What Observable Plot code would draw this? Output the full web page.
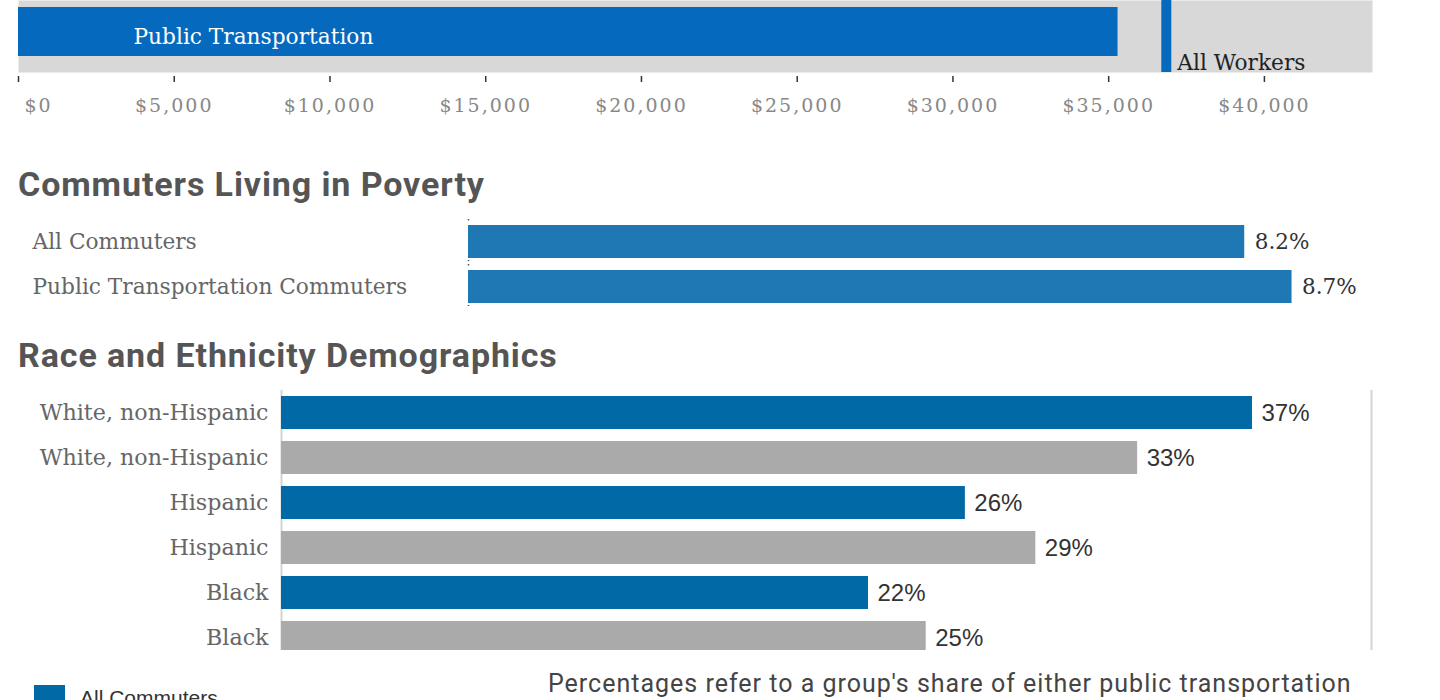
<!DOCTYPE html>
<html>
<head>
<meta charset="utf-8">
<script src="https://cdn.jsdelivr.net/npm/d3@7"></script>
<script src="https://cdn.jsdelivr.net/npm/@observablehq/plot@0.6"></script>
<style>
  html, body { margin: 0; padding: 0; background: #fff; }
  body { position: relative; width: 1440px; height: 700px; overflow: hidden; }
  .abs { position: absolute; left: 0; }
  .title { position: absolute; left: 18px; font-family: Roboto, sans-serif; font-weight: 700; font-size: 34px; line-height: 34px; letter-spacing: 0.9px; color: #555; white-space: nowrap; }
  svg { overflow: visible; }
</style>
</head>
<body>
<div id="c1" class="abs" style="top:0"></div>
<div class="title" style="top:167px">Commuters Living in Poverty</div>
<div id="c2" class="abs" style="top:200px"></div>
<div class="title" style="top:338px">Race and Ethnicity Demographics</div>
<div id="c3" class="abs" style="top:380px;height:270px;overflow:hidden;width:1440px"></div>
<div style="position:absolute;left:34px;top:685px;width:31px;height:31px;background:#0069a6"></div>
<div style="position:absolute;left:80px;top:686px;font-family:'Liberation Sans',Arial,sans-serif;font-size:21px;color:#333;white-space:nowrap">All Commuters</div>
<div id="cap" style="position:absolute;left:548px;top:669px;font-family:Roboto,sans-serif;font-size:25px;line-height:30px;letter-spacing:1px;color:#444;white-space:nowrap">Percentages refer to a group's share of either public transportation</div>
<script>
// ---- Data ----
const incomeLabels = ["Public Transportation"];
const incomeValues = [35300];
const allWorkersIncome = [36850];
const allWorkersLabel = ["All Workers"];
const incomeTicks = [0, 5000, 10000, 15000, 20000, 25000, 30000, 35000, 40000];
const incomeMax = 43470;

const povertyLabels = ["All Commuters", "Public Transportation Commuters"];
const povertyValues = [8.2, 8.7];
const povertyMax = 9.55;

const raceGroups = ["White, non-Hispanic", "Hispanic", "Black"];
const raceAllCommuters = [37.2, 26.2, 22.49];
const racePublicTransit = [32.8, 28.9, 24.7];
const raceSeries = ["All Commuters", "Public Transportation Commuters"];
const raceMax = 41.76;

const serif = "'DejaVu Serif', serif";
const sans = "'Liberation Sans', Arial, sans-serif";

// ---- Chart 1: income ----
const incomeRows = incomeLabels.map((l, i) => ({label: l, value: incomeValues[i]}));
const fmtMoney = d => "$" + d3.format(",")(d);
const c1 = Plot.plot({
  width: 1440, height: 125,
  marginLeft: 18, marginRight: 68, marginTop: 0, marginBottom: 53,
  x: {domain: [0, incomeMax], axis: null},
  y: {domain: incomeLabels, padding: 0, axis: null},
  style: {fontFamily: serif, background: "transparent"},
  marks: [
    Plot.frame({fill: "#d8d8d8", stroke: null}),
    Plot.barX(incomeRows, {x: "value", y: "label", fill: "#0569bd", insetTop: 7, insetBottom: 16}),
    Plot.text(incomeRows, {x: 0, y: "label", text: "label", textAnchor: "start", dx: 115, dy: 1, fill: "#fff", fontSize: 21.7}),
    Plot.ruleX(allWorkersIncome, {x: d => d, stroke: "#0569bd", strokeWidth: 10}),
    Plot.text(allWorkersIncome, {x: d => d, text: (d, i) => allWorkersLabel[i], frameAnchor: "bottom", lineAnchor: "bottom", textAnchor: "start", dx: 11, dy: -3, fill: "#222", fontSize: 21.7}),
    Plot.axisX(incomeTicks, {tickSize: 6, tickFormat: () => "", stroke: "#333", strokeWidth: 1.5, dy: 4, label: null}),
    Plot.axisX(incomeTicks.slice(1), {tickSize: 0, tickPadding: 26, tickFormat: fmtMoney, fontSize: 19, color: "#888", label: null}),
    Plot.axisX(incomeTicks.slice(0, 1), {tickSize: 0, tickPadding: 26, tickFormat: fmtMoney, fontSize: 19, color: "#888", textAnchor: "start", dx: 6, label: null})
  ]
});
d3.select(c1).selectAll("g[aria-label='x-axis tick label'] text").style("letter-spacing", "2px");
document.getElementById("c1").append(c1);

// ---- Chart 2: poverty ----
const povertyRows = povertyLabels.map((l, i) => ({label: l, value: povertyValues[i]}));
const c2 = Plot.plot({
  width: 1440, height: 110,
  marginLeft: 468, marginRight: 68, marginTop: 19, marginBottom: 1,
  x: {domain: [0, povertyMax], axis: null},
  y: {domain: povertyLabels, paddingInner: 12 / 45, paddingOuter: 6 / 45, axis: null},
  style: {fontFamily: serif, background: "transparent"},
  marks: [
    Plot.barX(povertyRows, {x: "value", y: "label", fill: "#1f77b4"}),
    Plot.tickX(povertyRows, {x: 0, y: "label", stroke: "#555", strokeWidth: 1.5, insetTop: -6, insetBottom: -3, strokeDasharray: "1.5,39.5"}),
    Plot.text(povertyRows, {x: "value", y: "label", text: d => d.value.toFixed(1) + "%", textAnchor: "start", dx: 10, fill: "#333", fontSize: 21.5}),
    Plot.axisY({tickSize: 0, tickPadding: 436, textAnchor: "start", fontSize: 21.7, color: "#666", label: null})
  ]
});
document.getElementById("c2").append(c2);

// ---- Chart 3: race ----
const raceRows = [];
raceGroups.forEach((g, i) => {
  raceRows.push({key: g + "|0", group: g, series: raceSeries[0], value: raceAllCommuters[i]});
  raceRows.push({key: g + "|1", group: g, series: raceSeries[1], value: racePublicTransit[i]});
});
const c3 = Plot.plot({
  width: 1440, height: 290,
  marginLeft: 281, marginRight: 69, marginTop: 10, marginBottom: 10,
  x: {domain: [0, raceMax], axis: null},
  y: {domain: raceRows.map(d => d.key), paddingInner: 12 / 45, paddingOuter: 6 / 45, axis: null},
  color: {domain: raceSeries, range: ["#0069a6", "#aaaaaa"]},
  style: {fontFamily: serif, background: "transparent"},
  marks: [
    Plot.ruleX([0, raceMax], {stroke: "#d4d4d4", strokeWidth: 2}),
    Plot.barX(raceRows, {x: "value", y: "key", fill: "series"}),
    Plot.text(raceRows, {x: "value", y: "key", text: d => Math.round(d.value) + "%", textAnchor: "start", dx: 9, fill: "#333", fontSize: 24, fontFamily: sans}),
    Plot.axisY({tickSize: 0, tickPadding: 13, tickFormat: k => k.split("|")[0], fontSize: 22.2, color: "#666", label: null})
  ]
});
document.getElementById("c3").append(c3);
</script>
</body>
</html>
